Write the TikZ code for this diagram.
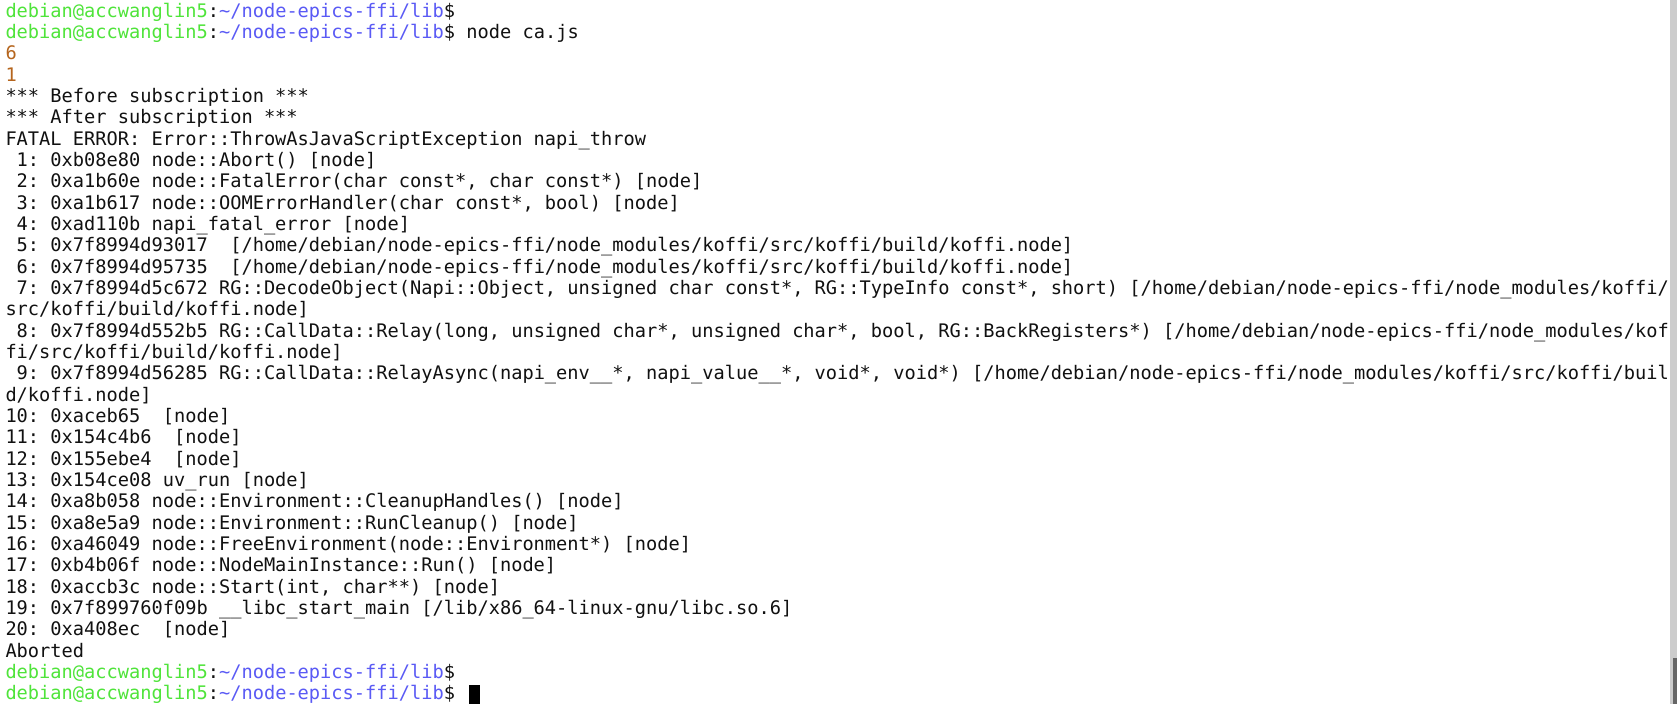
\documentclass[tikz,border=0pt]{standalone}
\usepackage{fontspec}
\setmonofont{DejaVu Sans Mono}
\definecolor{pgreen}{HTML}{4FE43A}
\definecolor{pblue}{HTML}{5A5AF5}
\definecolor{pnum}{HTML}{B5651D}
\definecolor{ptext}{HTML}{111111}
\newcommand{\prm}{\textcolor{pgreen}{debian@accwanglin5}:\textcolor{pblue}{\textasciitilde/node-epics-ffi/lib}\$}
\tikzset{ln/.style={anchor=base west,inner sep=0pt,font=\ttfamily\fontsize{18.67}{21}\selectfont,text=ptext}}
\newcommand{\Ln}[3]{\node[ln] (#1) at (5.3,{17.3+21.33*#2}) {#3};}
\begin{document}
\begin{tikzpicture}[x=1pt,y=-1pt]
\fill[white] (0,0) rectangle (1677,704);
\useasboundingbox (0,0) rectangle (1677,704);
\fill[black!20] (1670,0) rectangle (1677,704);
\fill[black!60] (1673,658) rectangle (1677,704);
\Ln{l0}{0}{\prm}
\Ln{l1}{1}{\prm\ node ca.js}
\Ln{l2}{2}{\textcolor{pnum}{6}}
\Ln{l3}{3}{\textcolor{pnum}{1}}
\Ln{l4}{4}{*** Before subscription ***}
\Ln{l5}{5}{*** After subscription ***}
\Ln{l6}{6}{FATAL ERROR: Error::ThrowAsJavaScriptException napi\_throw}
\Ln{l7}{7}{\ 1: 0xb08e80 node::Abort() [node]}
\Ln{l8}{8}{\ 2: 0xa1b60e node::FatalError(char const*, char const*) [node]}
\Ln{l9}{9}{\ 3: 0xa1b617 node::OOMErrorHandler(char const*, bool) [node]}
\Ln{l10}{10}{\ 4: 0xad110b napi\_fatal\_error [node]}
\Ln{l11}{11}{\ 5: 0x7f8994d93017\ \ [/home/debian/node-epics-ffi/node\_modules/koffi/src/koffi/build/koffi.node]}
\Ln{l12}{12}{\ 6: 0x7f8994d95735\ \ [/home/debian/node-epics-ffi/node\_modules/koffi/src/koffi/build/koffi.node]}
\Ln{l13}{13}{\ 7: 0x7f8994d5c672 RG::DecodeObject(Napi::Object, unsigned char const*, RG::TypeInfo const*, short) [/home/debian/node-epics-ffi/node\_modules/koffi/}
\Ln{l14}{14}{src/koffi/build/koffi.node]}
\Ln{l15}{15}{\ 8: 0x7f8994d552b5 RG::CallData::Relay(long, unsigned char*, unsigned char*, bool, RG::BackRegisters*) [/home/debian/node-epics-ffi/node\_modules/kof}
\Ln{l16}{16}{fi/src/koffi/build/koffi.node]}
\Ln{l17}{17}{\ 9: 0x7f8994d56285 RG::CallData::RelayAsync(napi\_env\_\_*, napi\_value\_\_*, void*, void*) [/home/debian/node-epics-ffi/node\_modules/koffi/src/koffi/buil}
\Ln{l18}{18}{d/koffi.node]}
\Ln{l19}{19}{10: 0xaceb65\ \ [node]}
\Ln{l20}{20}{11: 0x154c4b6\ \ [node]}
\Ln{l21}{21}{12: 0x155ebe4\ \ [node]}
\Ln{l22}{22}{13: 0x154ce08 uv\_run [node]}
\Ln{l23}{23}{14: 0xa8b058 node::Environment::CleanupHandles() [node]}
\Ln{l24}{24}{15: 0xa8e5a9 node::Environment::RunCleanup() [node]}
\Ln{l25}{25}{16: 0xa46049 node::FreeEnvironment(node::Environment*) [node]}
\Ln{l26}{26}{17: 0xb4b06f node::NodeMainInstance::Run() [node]}
\Ln{l27}{27}{18: 0xaccb3c node::Start(int, char**) [node]}
\Ln{l28}{28}{19: 0x7f899760f09b \_\_libc\_start\_main [/lib/x86\_64-linux-gnu/libc.so.6]}
\Ln{l29}{29}{20: 0xa408ec\ \ [node]}
\Ln{l30}{30}{Aborted}
\Ln{l31}{31}{\prm}
\Ln{l32}{32}{\prm}
\fill[black] ([xshift=14pt]l32.base east) ++(0,4) rectangle ++(11,-19);
\end{tikzpicture}
\end{document}
